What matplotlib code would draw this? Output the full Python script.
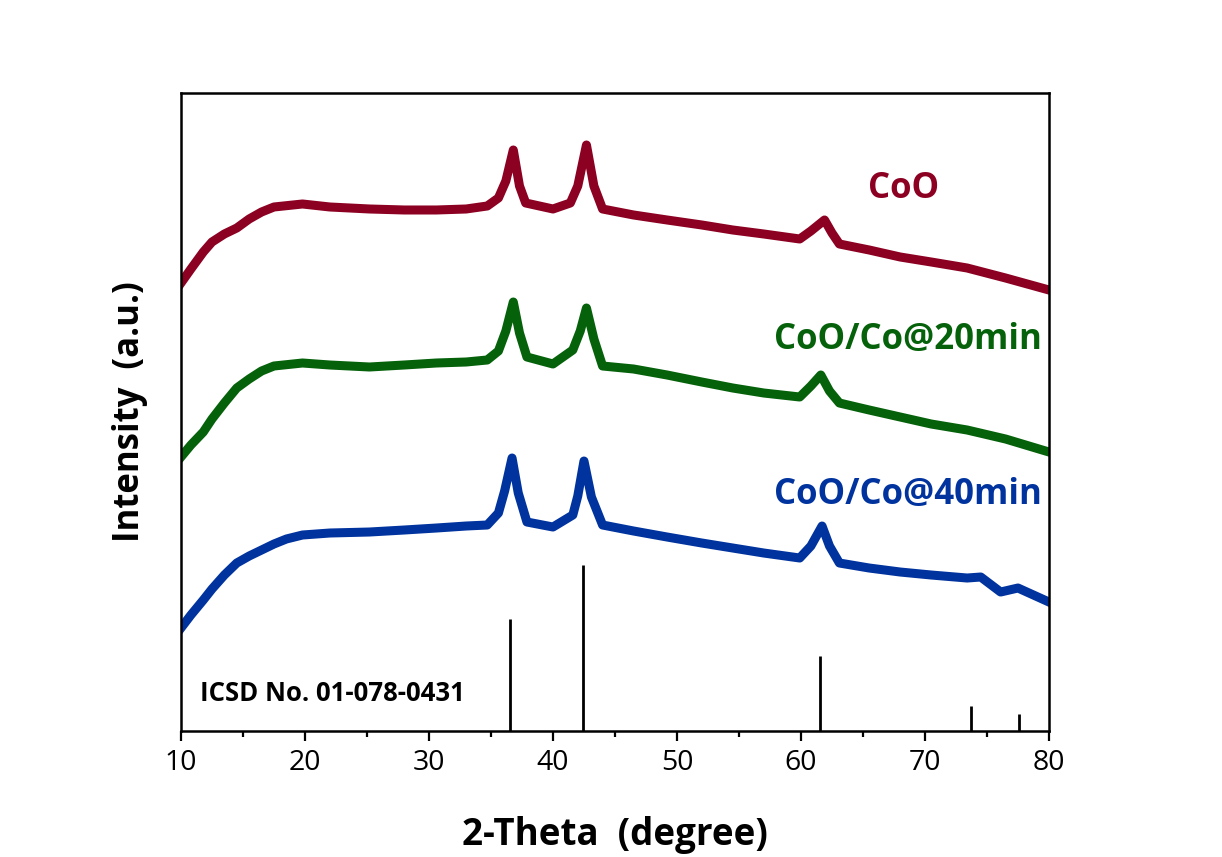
import matplotlib.pyplot as plt

plt.rcParams['font.family'] = ['Open Sans', 'DejaVu Sans']

# 2-theta positions and intensities (a.u., stacked)
two_theta_coo = [10.0, 10.8, 11.8, 12.5, 13.5, 14.5, 15.5, 16.5, 17.5, 19.8, 22.0, 25.2, 28.0,
                 30.6, 33.0, 34.7, 35.6, 36.2, 36.8, 37.3, 37.8, 40.0, 41.4, 42.0, 42.7, 43.3,
                 44.0, 46.5, 49.2, 52.0, 54.5, 57.0, 59.9, 60.8, 61.9, 62.5, 63.1, 65.5, 68.0,
                 70.5, 73.4, 76.5, 80.0]
coo = [448, 462, 479, 489, 497, 503, 512, 519, 524, 527, 524, 522, 521,
       521, 522, 525, 533, 550, 581, 545, 528, 522, 528, 545, 586, 545,
       522, 516, 511, 506, 501, 497, 492, 500, 511, 498, 487, 481, 474,
       469, 463, 453, 441]

two_theta_20 = [10.0, 10.8, 11.8, 12.5, 13.5, 14.5, 15.5, 16.5, 17.5, 19.8, 22.0, 25.2, 28.0,
                30.6, 33.0, 34.7, 35.6, 36.2, 36.8, 37.3, 37.9, 40.0, 41.6, 42.2, 42.7, 43.3,
                44.0, 46.5, 49.2, 52.0, 54.5, 57.0, 59.9, 60.8, 61.6, 62.3, 63.1, 65.5, 68.0,
                70.5, 73.4, 76.5, 80.0]
coo_co_20 = [274, 286, 299, 312, 328, 343, 352, 360, 365, 368, 366, 364, 366,
             368, 369, 371, 380, 400, 429, 398, 374, 367, 381, 400, 423, 392,
             365, 362, 356, 349, 343, 338, 334, 345, 356, 340, 328, 321, 314,
             307, 301, 292, 279]

two_theta_40 = [10.0, 10.8, 11.8, 12.5, 13.5, 14.5, 15.5, 16.5, 17.5, 18.5, 19.8, 22.0, 25.2,
                28.0, 30.6, 33.0, 34.7, 35.6, 36.1, 36.7, 37.2, 37.9, 40.0, 41.6, 42.0, 42.5,
                43.1, 44.0, 46.5, 49.2, 52.0, 54.5, 57.0, 59.9, 60.8, 61.7, 62.3, 63.1, 65.5,
                68.0, 70.5, 73.4, 74.5, 76.1, 77.5, 80.0]
coo_co_40 = [103, 116, 131, 142, 156, 168, 175, 181, 187, 192, 196, 198, 199,
             201, 203, 205, 206, 218, 240, 273, 238, 209, 204, 216, 235, 270,
             234, 206, 200, 194, 188, 183, 178, 173, 185, 205, 185, 168, 163,
             159, 156, 153, 154, 139, 143, 129]

# reference pattern ICSD 01-078-0431
ref_pos = [36.5, 42.4, 61.5, 73.7, 77.6]
ref_int = [112, 166, 75, 25, 17]

c_red = '#8C0022'
c_green = '#05610A'
c_blue = '#00339E'

fig = plt.figure(figsize=(12.22, 8.57), dpi=100)
ax = fig.add_axes([0.1481, 0.147, 0.7103, 0.7445])

ax.plot(two_theta_coo, coo, color=c_red, lw=6.5, solid_joinstyle='round')
ax.plot(two_theta_20, coo_co_20, color=c_green, lw=6.5, solid_joinstyle='round')
ax.plot(two_theta_40, coo_co_40, color=c_blue, lw=6.5, solid_joinstyle='round')
ax.vlines(ref_pos, 0, ref_int, color='black', lw=2)

ax.text(68.3, 542, 'CoO', color=c_red, fontsize=25, fontweight='bold', ha='center', va='center')
ax.text(79.4, 391, 'CoO/Co@20min', color=c_green, fontsize=25, fontweight='bold', ha='right', va='center')
ax.text(79.4, 236, 'CoO/Co@40min', color=c_blue, fontsize=25, fontweight='bold', ha='right', va='center')
ax.text(11.5, 38, 'ICSD No. 01-078-0431', color='black', fontsize=18.5, fontweight='bold', ha='left', va='center')

ax.set_xlim(10, 80)
ax.set_ylim(0, 638)
ax.set_xticks([10, 20, 30, 40, 50, 60, 70, 80])
ax.set_xticks([15, 25, 35, 45, 55, 65, 75], minor=True)
ax.set_yticks([])
ax.tick_params(axis='x', which='major', direction='out', length=7, width=1.6, labelsize=20.5, pad=6)
ax.tick_params(axis='x', which='minor', direction='out', length=4, width=1.6)
for s in ax.spines.values():
    s.set_linewidth(1.8)

ax.set_xlabel('2-Theta  (degree)', fontsize=26.5, fontweight='bold', labelpad=28)
ax.set_ylabel('Intensity  (a.u.)', fontsize=25, fontweight='bold', labelpad=24)

fig.savefig('out.png', dpi=100)
